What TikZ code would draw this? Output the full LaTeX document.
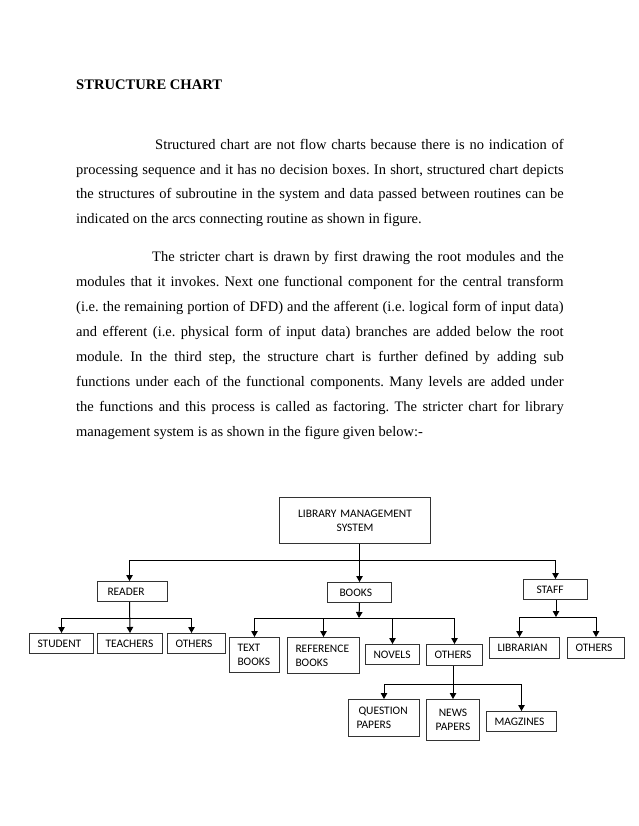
\documentclass[tikz,border=0pt]{standalone}
\usepackage{fontspec}
\setmainfont{Liberation Serif}
\newfontfamily\chartfont{Carlito}
\usetikzlibrary{arrows.meta}

\begin{document}
\begin{tikzpicture}[x=1pt,y=-1pt,
  module/.style={draw=black!80,line width=1pt,anchor=north west,inner xsep=8pt,inner ysep=0pt,
    align=left,font=\chartfont\fontsize{11.46}{14}\selectfont},
  arr/.style={-{Triangle[length=6pt,width=6.5pt]},line width=1pt},
  para/.style={anchor=base west,inner sep=0pt,text width=487.5pt,align=justify}]

   \fill[white] (0,0) rectangle (638,826);
   \useasboundingbox (0,0) rectangle (638,826);

   % text above the chart
   \node[anchor=base west,inner sep=0pt,font=\bfseries\fontsize{14.6}{17}\selectfont] (title) at (76,89.5) {STRUCTURE CHART};
   \node[para,font=\fontsize{14.5}{24.4}\selectfont\frenchspacing] (para_1) at (76,150)
     {\hspace*{79pt}Structured chart are not flow charts because there is no indication of\linebreak
      processing sequence and it has no decision boxes. In short, structured chart depicts\linebreak
      the structures of subroutine in the system and data passed between routines can be\linebreak
      indicated on the arcs connecting routine as shown in figure.};
   \node[para,font=\fontsize{14.5}{25}\selectfont\frenchspacing] (para_2) at (76,261)
     {\hspace*{76pt}The stricter chart is drawn by first drawing the root modules and the\linebreak
      modules that it invokes. Next one functional component for the central transform\linebreak
      (i.e. the remaining portion of DFD) and the afferent (i.e. logical form of input data)\linebreak
      and efferent (i.e. physical form of input data) branches are added below the root\linebreak
      module. In the third step, the structure chart is further defined by adding sub\linebreak
      functions under each of the functional components. Many levels are added under\linebreak
      the functions and this process is called as factoring. The stricter chart for library\linebreak
      management system is as shown in the figure given below:-};

   % modules
   \node[module,align=center,text width=135pt,minimum height=46pt] (lib_sys) at (279,497) {LIBRARY MANAGEMENT\\SYSTEM};
   \node[module,text width=54pt,minimum height=20pt] (reader) at (97,581) {\hspace*{2pt}READER};
   \node[module,text width=48pt,minimum height=20pt] (books) at (327,582) {\hspace*{4pt}BOOKS};
   \node[module,text width=48pt,minimum height=20pt] (staff) at (523,579) {\hspace*{5pt}STAFF};

   \node[module,text width=48pt,minimum height=20pt] (student) at (29,633) {STUDENT};
   \node[module,text width=49pt,minimum height=20pt] (teachers) at (97,633) {TEACHERS};
   \node[module,text width=42pt,minimum height=20pt] (r_others) at (167,633) {OTHERS};

   \node[module,text width=34pt,minimum height=35pt] (text_books) at (229,637) {TEXT\\BOOKS};
   \node[module,text width=56pt,minimum height=36pt] (ref_books) at (287,637) {REFERENCE\\BOOKS};
   \node[module,text width=38pt,minimum height=20pt] (novels) at (365,644) {NOVELS};
   \node[module,text width=40pt,minimum height=21pt] (b_others) at (426,644) {OTHERS};

   \node[module,text width=54pt,minimum height=21pt] (librarian) at (489,637) {LIBRARIAN};
   \node[module,text width=41pt,minimum height=21pt] (s_others) at (567,637) {OTHERS};

   \node[module,text width=55pt,minimum height=37pt] (question) at (348,699) {\hspace*{2pt}QUESTION\\PAPERS};
   \node[module,align=center,text width=37pt,minimum height=41pt] (news) at (426,699) {NEWS\\PAPERS};
   \node[module,text width=54pt,minimum height=20pt] (magzines) at (486,711) {MAGZINES};

   % bus points
   \coordinate (bus_0) at (359,560);
   \coordinate (bus_r) at (129,618);
   \coordinate (bus_b) at (359,618);
   \coordinate (bus_s) at (556,617);
   \coordinate (bus_o) at (452,684);

   % connectors
   \draw[arr] (lib_sys.south -| books.north) -- (books.north);
   \draw[arr] (bus_0) -| ([xshift=-3pt]reader.north);
   \draw[arr] (bus_0) -| (staff.north);

   \draw[arr] ([xshift=-3pt]reader.south) -- (teachers.north);
   \draw[arr] (bus_r) -| (student.north);
   \draw[arr] (bus_r) -| ([xshift=-5pt]r_others.north);

   \draw[arr] (books.south) -- (bus_b);
   \draw[arr] (bus_b) -| (text_books.north);
   \draw[arr] (bus_b) -| (ref_books.north);
   \draw[arr] (bus_b) -| (novels.north);
   \draw[arr] (bus_b) -| (b_others.north);

   \draw[arr] (staff.south -| bus_s) -- (bus_s);
   \draw[arr] (bus_s) -| ([xshift=-5pt]librarian.north);
   \draw[arr] (bus_s) -| (s_others.north);

   \draw[arr] (b_others.south -| news.north) -- (news.north);
   \draw[arr] (bus_o) -| (question.north);
   \draw[arr] (bus_o) -| (magzines.north);
\end{tikzpicture}
\end{document}
